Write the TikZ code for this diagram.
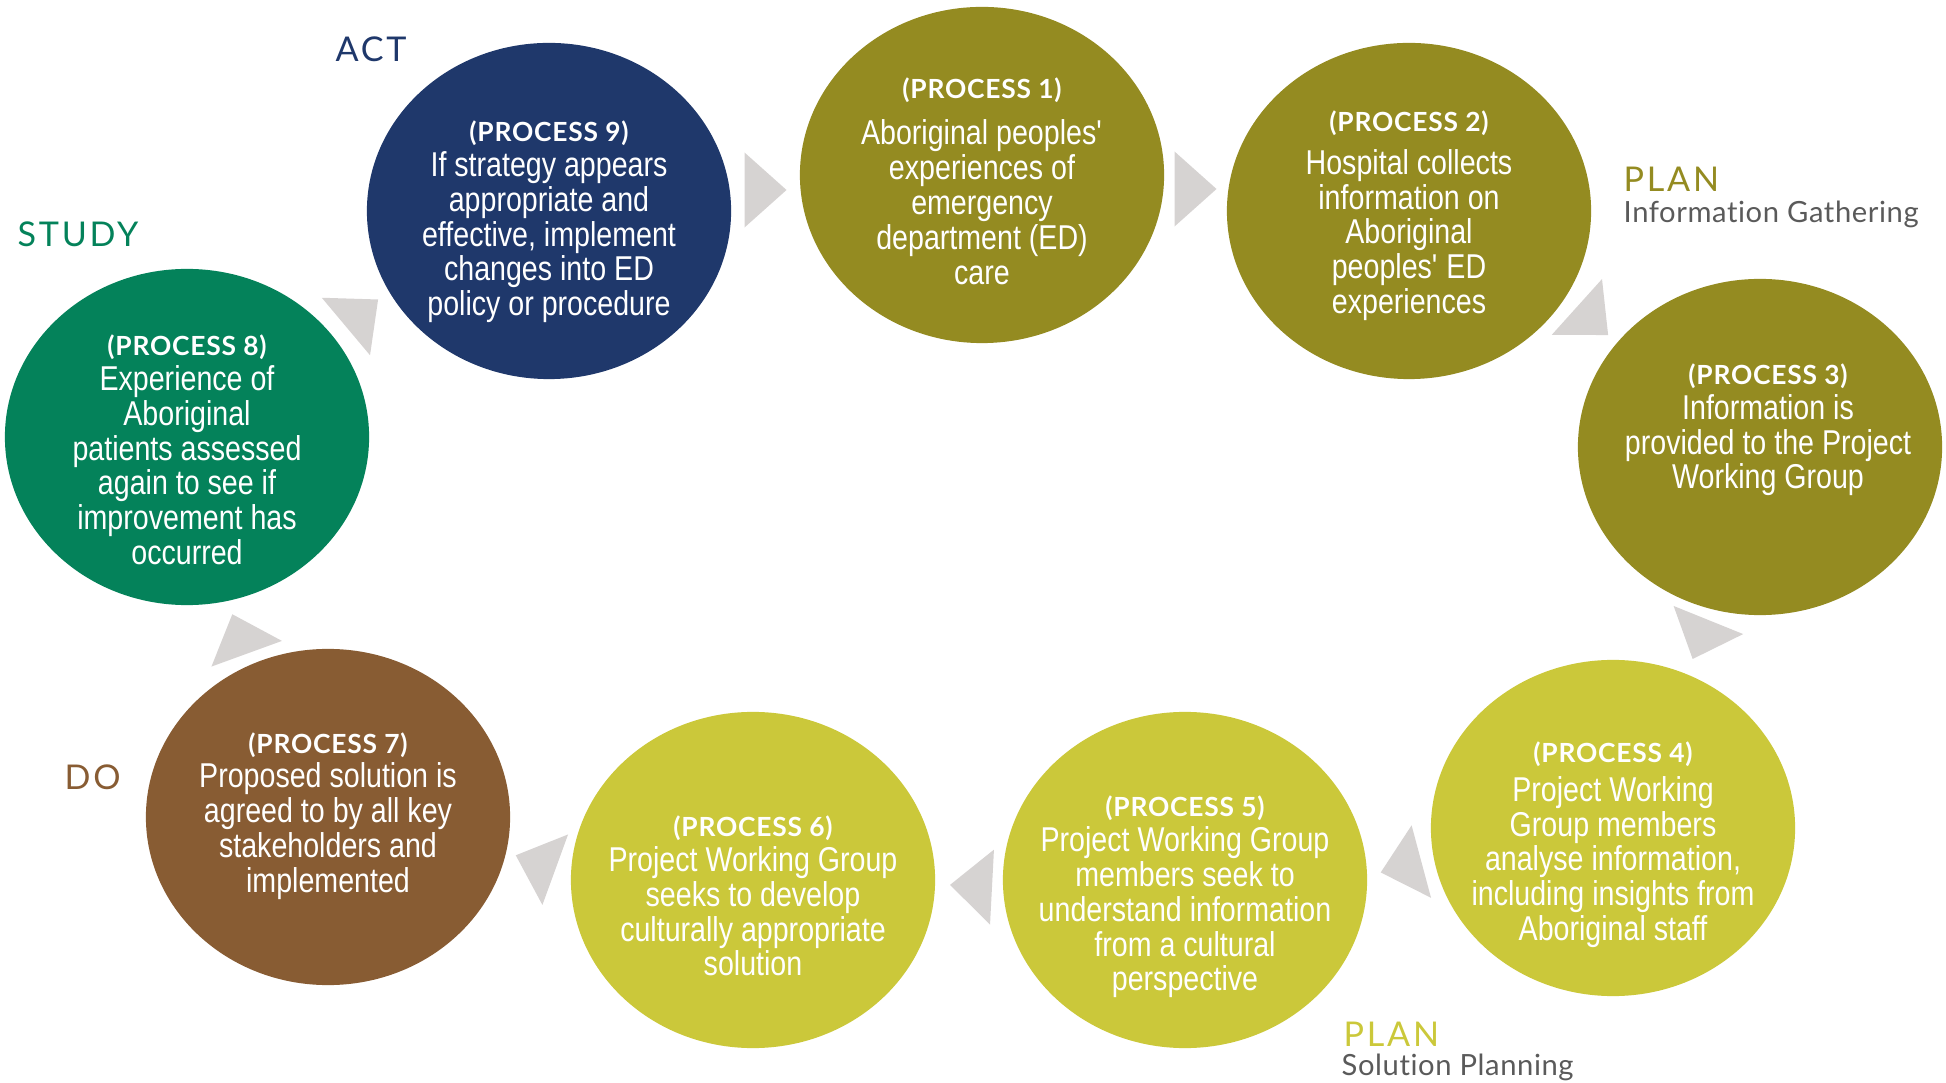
\documentclass[tikz,border=0pt]{standalone}
\usepackage{fontspec}
\setmainfont{Liberation Sans}
\newfontfamily\bodyfont{Liberation Sans}[FakeStretch=0.83]
\newfontfamily\headfont{Lato}[LetterSpace=3]
\newfontfamily\phasefont{Lato}[LetterSpace=8]
\newfontfamily\subfont{Lato}[LetterSpace=2, Ligatures=NoCommon]
\usetikzlibrary{shapes.geometric,calc,positioning}
\definecolor{actblue}{RGB}{31,56,107}
\definecolor{planolive}{RGB}{148,139,33}
\definecolor{planlime}{RGB}{203,200,58}
\definecolor{dobrown}{RGB}{136,92,51}
\definecolor{studygreen}{RGB}{4,130,90}
\definecolor{arrowgray}{RGB}{214,211,210}
\definecolor{subgray}{RGB}{90,90,90}
\newcommand{\proc}[1]{{\headfont\bfseries\fontsize{7.5}{9.9}\selectfont (PROCESS #1)}}

\begin{document}
\begin{tikzpicture}[
	x=0.01cm, y=-0.01cm,
	stage/.style={ellipse, fill=#1, minimum width=3.64cm, minimum height=3.36cm, inner sep=0pt},
	txt/.style={text=white, align=center, inner sep=0pt, font=\bodyfont\fontsize{9.8}{9.9}\selectfont},
	phase/.style={anchor=base west, inner sep=0pt, text=#1, font=\phasefont\fontsize{9.7}{11}\selectfont},
	sub/.style={anchor=base west, inner sep=0pt, text=subgray, font=\subfont\fontsize{8.3}{10}\selectfont},
	chevron/.pic={\fill[arrowgray] (-0.21cm,-0.375cm) -- (0.21cm,0cm) -- (-0.21cm,0.375cm) -- cycle;}
	]
	\useasboundingbox (0,0) rectangle (1946,1083);

	% the nine stages
	\node[stage=actblue] (p9) at (549,211) {};
	\node[stage=planolive] (p1) at (982,175) {};
	\node[stage=planolive] (p2) at (1409,211) {};
	\node[stage=planolive] (p3) at (1760,447) {};
	\node[stage=planlime] (p4) at (1613,828) {};
	\node[stage=planlime] (p5) at (1185,880) {};
	\node[stage=planlime] (p6) at (753,880) {};
	\node[stage=dobrown] (p7) at (328,817) {};
	\node[stage=studygreen] (p8) at (187,437) {};

	\node[txt] (t9) at ($(p9)+(0,11)$) {\proc{9}\\ If strategy appears\\ appropriate and\\ effective, implement\\ changes into ED\\ policy or procedure};
	\node[txt] (t1) at ($(p1)+(0,6)$) {\proc{1}\\[0.12cm] Aboriginal peoples\textquotesingle\\ experiences of\\ emergency\\ department (ED)\\ care};
	\node[txt] (t2) at ($(p2)+(0,5)$) {\proc{2}\\[0.075cm] Hospital collects\\ information on\\ Aboriginal\\ peoples\textquotesingle{} ED\\ experiences};
	\node[txt] (t3) at ($(p3)+(8,-17)$) {\proc{3}\\ Information is\\ provided to the Project\\ Working Group};
	\node[txt] (t4) at ($(p4)+(0,17)$) {\proc{4}\\[0.035cm] Project Working\\ Group members\\ analyse information,\\ including insights from\\ Aboriginal staff};
	\node[txt] (t5) at ($(p5)+(0,17)$) {\proc{5}\\ Project Working Group\\ members seek to\\ understand information\\ from a cultural\\ perspective};
	\node[txt] (t6) at ($(p6)+(0,16)$) {\proc{6}\\ Project Working Group\\ seeks to develop\\ culturally appropriate\\ solution};
	\node[txt] (t7) at ($(p7)+(0,-1)$) {\proc{7}\\ Proposed solution is\\ agreed to by all key\\ stakeholders and\\ implemented};
	\node[txt] (t8) at ($(p8)+(0,13)$) {\proc{8}\\ Experience of\\ Aboriginal\\ patients assessed\\ again to see if\\ improvement has\\ occurred};

	% flow arrows
	\pic at ($(p9)!0.5!(p1)+(0,-3)$) {chevron};
	\pic at ($(p1)!0.5!(p2)+(0,-4)$) {chevron};
	\pic[rotate=-42] at ($(p2)!0.5!(p3)+(8,-8)$) {chevron};
	\pic[rotate=-112] at ($(p3)!0.5!(p4)+(14,2)$) {chevron};
	\pic[rotate=195] at ($(p4)!0.5!(p5)+(2,13)$) {chevron};
	\pic[rotate=177] at ($(p5)!0.5!(p6)+(2,6)$) {chevron};
	\pic[rotate=160] at ($(p6)!0.5!(p7)+(-5,14)$) {chevron};
	\pic[rotate=110] at ($(p7)!0.5!(p8)+(-18,7)$) {chevron};
	\pic[rotate=40] at ($(p8)!0.5!(p9)+(-6,-11)$) {chevron};

	% phase labels
	\node[phase=actblue] (act) at (335,62) {ACT};
	\node[phase=studygreen] (study) at (17,247) {STUDY};
	\node[phase=dobrown] (do) at (64,790) {DO};
	\node[phase=planolive] (plantop) at (1623,192) {PLAN};
	\node[sub] (gather) at (1623,223) {Information Gathering};
	\node[phase=planlime] (planbot) at (1343,1046) {PLAN};
	\node[sub] (solve) at (1341,1075) {Solution Planning};
\end{tikzpicture}
\end{document}
